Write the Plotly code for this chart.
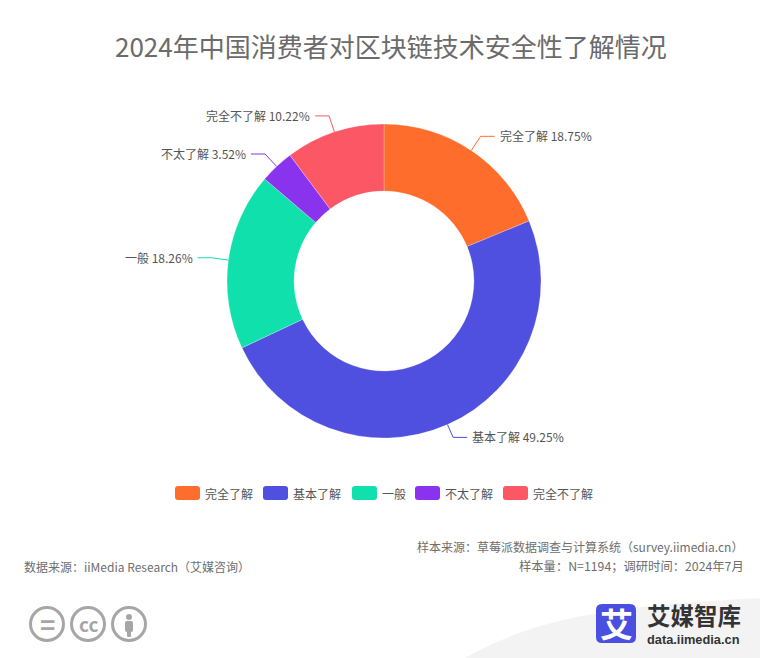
import math
import plotly.graph_objects as go

categories = ["完全了解", "基本了解", "一般", "不太了解", "完全不了解"]
shares = [18.75, 49.25, 18.26, 3.52, 10.22]
colors = ["#FF6D2D", "#4F4FE0", "#10E0AC", "#8A33EE", "#FB5765"]
leader_lengths = [17, 14, 17, 17, 17]
title = "2024年中国消费者对区块链技术安全性了解情况"
source_left = "数据来源：iiMedia Research（艾媒咨询）"
source_right_1 = "样本来源：草莓派数据调查与计算系统（survey.iimedia.cn）"
source_right_2 = "样本量：N=1194；调研时间：2024年7月"

# The page keeps an 8px body margin, so the figure is 8px smaller each way
# and the coordinates below are window pixels.
OFF = 8
W, H = 768 - OFF, 658 - OFF
CX, CY, R = 384, 281, 157
FONT = "Noto Sans CJK SC"


def px(x):
    return (x - OFF) / W


def py(y):
    return 1 - (y - OFF) / H


shapes, annotations = [], []


def text(x, y, s, size=12, color="#555555", anchor="left", bold=False, family=FONT):
    annotations.append(dict(
        x=px(x), y=py(y), xref="paper", yref="paper", text=f"<b>{s}</b>" if bold else s,
        showarrow=False, xanchor=anchor, yanchor="middle",
        font=dict(size=size, color=color, family=family), borderpad=0, borderwidth=0))


def path(d, line="rgba(0,0,0,0)", fill=None, width=1, layer="above"):
    shapes.append(dict(type="path", xref="paper", yref="paper", path=d, layer=layer,
                       line=dict(color=line, width=width),
                       fillcolor=fill if fill else "rgba(0,0,0,0)"))


def P(x, y):
    return f"{px(x):.5f},{py(y):.5f}"


def rrect(x0, y0, x1, y1, r):
    return (f"M {P(x0 + r, y0)} L {P(x1 - r, y0)} Q {P(x1, y0)} {P(x1, y0 + r)} "
            f"L {P(x1, y1 - r)} Q {P(x1, y1)} {P(x1 - r, y1)} L {P(x0 + r, y1)} "
            f"Q {P(x0, y1)} {P(x0, y1 - r)} L {P(x0, y0 + r)} Q {P(x0, y0)} {P(x0 + r, y0)} Z")


# corner swoosh behind the logo
path(f"M {P(465, 658)} C {P(520, 628)} {P(575, 606)} {P(768, 598)} L {P(768, 658)} Z",
     fill="#F3F3F3", layer="below")

fig = go.Figure(go.Pie(
    labels=categories, values=shares, sort=False, direction="clockwise", rotation=0,
    hole=0.573, textinfo="none", showlegend=False,
    marker=dict(colors=colors, line=dict(color="rgba(255,255,255,0.5)", width=0.5)),
    domain=dict(x=[px(CX - R), px(CX + R)], y=[py(CY + R), py(CY - R)]),
))

# outside labels with elbow leader lines, placed from the values
cum = 0
for name, v, c, ll in zip(categories, shares, colors, leader_lengths):
    a = math.radians((cum + v / 2) * 3.6)
    cum += v
    s, k = math.sin(a), -math.cos(a)
    x0, y0 = CX + R * s, CY + R * k
    x1, y1 = CX + (R + ll) * s, CY + (R + ll) * k
    d = 1 if s > 0 else -1
    x2 = x1 + d * 14
    path(f"M {P(x0, y0)} L {P(x1, y1)} L {P(x2, y1)}", line=c, width=1)
    text(x2 + d * 5, y1 - 0.5, f"{name} {v:.2f}%", anchor="left" if d > 0 else "right")

# legend row
legend_x = [175, 263, 352, 415, 503]
for x, name, c in zip(legend_x, categories, colors):
    path(rrect(x, 486, x + 25, 500, 3), fill=c)
    text(x + 30, 493, name)

text(391, 46, title, size=26, color="#6B6B6B", anchor="center")
text(24, 566, source_left, color="#6E6E6E")
text(743, 546, source_right_1, color="#6E6E6E", anchor="right")
text(744, 566, source_right_2, size=12.3, color="#6E6E6E", anchor="right")

# licence badges
for cx in (47, 88, 129):
    shapes.append(dict(type="circle", xref="paper", yref="paper",
                       x0=px(cx - 16.5), x1=px(cx + 16.5), y0=py(624 + 16.5), y1=py(624 - 16.5),
                       line=dict(color="#A6A6A6", width=3), fillcolor="rgba(0,0,0,0)"))
text(47, 623, "=", size=26, color="#A6A6A6", anchor="center", bold=True)
text(88, 623, "cc", size=19, color="#A6A6A6", anchor="center", bold=True)
shapes.append(dict(type="circle", xref="paper", yref="paper", x0=px(126), x1=px(132),
                   y0=py(620), y1=py(614), line=dict(width=0), fillcolor="#A6A6A6"))
path(rrect(125, 621, 133, 632, 2), fill="#A6A6A6")
path(rrect(127, 630, 131, 637, 1), fill="#A6A6A6")

# brand block
path(rrect(596, 604, 636, 643, 6), fill="#4B4FE0")
text(616, 622.5, "艾", size=33, color="#FFFFFF", anchor="center", bold=True)
text(647, 615, "艾媒智库", size=23.5, color="#333333", bold=True)
text(647, 639.5, "data.iimedia.cn", size=12.8, color="#333333", bold=True, family="Liberation Sans")

fig.update_layout(
    width=W, height=H, autosize=False,
    margin=dict(l=0, r=0, t=0, b=0),
    paper_bgcolor="#FFFFFF", plot_bgcolor="#FFFFFF",
    font=dict(family=FONT),
    shapes=shapes, annotations=annotations,
)
fig.write_html("out.html", config=dict(displayModeBar=False, responsive=False))
